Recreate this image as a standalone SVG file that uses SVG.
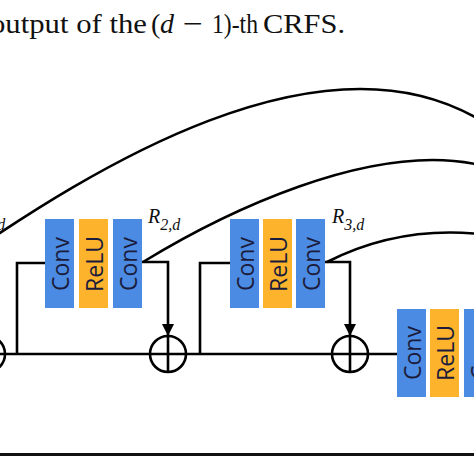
<svg xmlns="http://www.w3.org/2000/svg" width="474" height="474" viewBox="0 0 474 474">
<defs>
<style>
.conv{fill:#4b8be3}
.relu{fill:#fdb42c}
.lbl{font-family:"Open Sans","DejaVu Sans",sans-serif;font-size:23px;fill:#1b1b3b;text-anchor:middle;dominant-baseline:central}
.ln{fill:none;stroke:#000;stroke-width:2.6}
.r{font-family:"Liberation Serif",serif;font-style:italic;fill:#111;font-size:20px}
.sub{font-size:16px}
.cap{font-family:"Liberation Serif",serif;font-size:28px;fill:#111}
</style>
<marker id="ah" viewBox="0 0 12 12" refX="12" refY="6" markerWidth="12" markerHeight="12" markerUnits="userSpaceOnUse" orient="auto">
<path d="M0,0 L12,6 L0,12 Z" fill="#000"/>
</marker>
</defs>
<rect width="474" height="474" fill="#fff"/>
<g id="caption">
<text class="cap" x="-10" y="33" textLength="157" lengthAdjust="spacingAndGlyphs">output of the</text>
<text class="cap" x="151" y="33">(</text>
<text class="cap" x="160" y="33" font-style="italic">d</text>
<text class="cap" x="183" y="33" textLength="20" lengthAdjust="spacingAndGlyphs">−</text>
<text class="cap" x="212" y="33" textLength="46" lengthAdjust="spacingAndGlyphs">1)-th</text>
<text class="cap" x="263" y="33" textLength="82" lengthAdjust="spacingAndGlyphs">CRFS.</text>
</g>
<g id="connectors">
<path class="ln" d="M-43,262 C90,170 320,25 480,120"/>
<path class="ln" d="M143,262 C220,215 370,140 480,165"/>
<path class="ln" d="M327,262 C370,240 420,228 480,234"/>
<path class="ln" d="M-13,354 H397"/>
<path class="ln" d="M17,354 V263 H45"/>
<path class="ln" d="M142,262 H168 V336" marker-end="url(#ah)"/>
<path class="ln" d="M200,354 V263 H230"/>
<path class="ln" d="M325,262 H350 V336" marker-end="url(#ah)"/>
<path d="M0,454.5 H474" stroke="#111" stroke-width="3"/>
</g>
<g id="adder1"><circle class="ln" cx="-13" cy="354" r="18"/><path class="ln" d="M-13,336 V372"/></g>
<g id="adder2"><circle class="ln" cx="168" cy="354" r="18"/><path class="ln" d="M168,336 V372"/></g>
<g id="adder3"><circle class="ln" cx="350" cy="354" r="18"/><path class="ln" d="M350,336 V372"/></g>
<g id="label-r1"><text class="r" x="-27" y="223">R<tspan class="sub" dy="7">1,d</tspan></text></g>
<g id="label-r2"><text class="r" x="148" y="223">R<tspan class="sub" dy="7">2,d</tspan></text></g>
<g id="label-r3"><text class="r" x="332" y="223">R<tspan class="sub" dy="7">3,d</tspan></text></g>
<g id="block1">
<rect class="conv" x="45" y="219" width="29" height="89"/>
<text class="lbl" transform="translate(59.5,264) rotate(-90)">Conv</text>
<rect class="relu" x="79" y="219" width="29" height="89"/>
<text class="lbl" transform="translate(93.5,264) rotate(-90)">ReLU</text>
<rect class="conv" x="113" y="219" width="29" height="89"/>
<text class="lbl" transform="translate(127.5,264) rotate(-90)">Conv</text>
</g>
<g id="block2">
<rect class="conv" x="230" y="219" width="29" height="89"/>
<text class="lbl" transform="translate(244.5,264) rotate(-90)">Conv</text>
<rect class="relu" x="263" y="219" width="29" height="89"/>
<text class="lbl" transform="translate(277.5,264) rotate(-90)">ReLU</text>
<rect class="conv" x="296" y="219" width="29" height="89"/>
<text class="lbl" transform="translate(310.5,264) rotate(-90)">Conv</text>
</g>
<g id="block3">
<rect class="conv" x="397" y="309" width="29" height="88"/>
<text class="lbl" transform="translate(411.5,353) rotate(-90)">Conv</text>
<rect class="relu" x="430" y="309" width="29" height="88"/>
<text class="lbl" transform="translate(444.5,353) rotate(-90)">ReLU</text>
<rect class="conv" x="464" y="309" width="29" height="88"/>
<text class="lbl" transform="translate(478.5,353) rotate(-90)">Conv</text>
</g>
</svg>
